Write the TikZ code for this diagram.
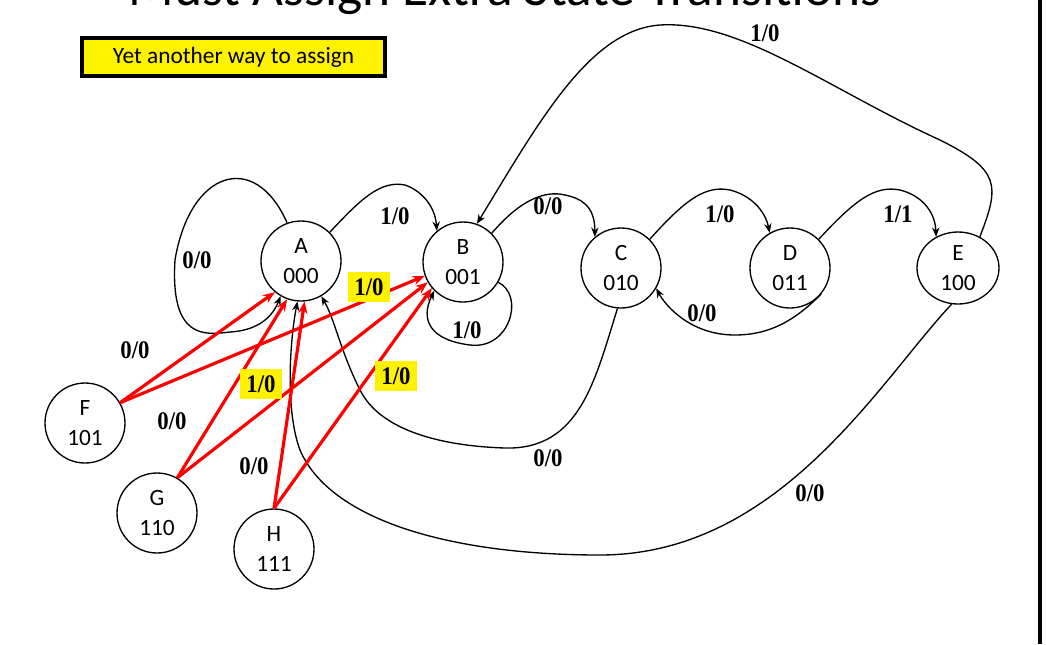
\documentclass[tikz,border=0pt]{standalone}
\usepackage{fontspec}
\setmainfont{Carlito}
\newfontfamily\lblfont{Liberation Serif}
\usetikzlibrary{arrows.meta,shapes.geometric}
\begin{document}
\begin{tikzpicture}[x=0.75pt,y=-0.75pt,
  st/.style={draw,circle,minimum size=80*0.75pt,inner sep=0pt,align=center,font=\fontsize{17.5}{22}\selectfont,line width=1pt},
  bk/.style={draw,line width=1pt,-{Stealth[length=7pt,width=5.5pt]}},
  rd/.style={draw=red,line width=2.4pt,-{Stealth[length=9pt,width=7pt]}},
  lb/.style={font=\lblfont\bfseries\fontsize{19}{20}\selectfont,inner sep=1pt,xscale=0.9},
  ylb/.style={lb,fill=yellow,inner sep=5pt}]
\useasboundingbox (0,0) rectangle (1046,644);
\fill[white] (0,0) rectangle (1046,644);
\node[anchor=base,font=\fontsize{40}{44}\selectfont] (title) at (505,5) {Must Assign Extra State Transitions};
\draw[line width=2.5pt] (1040,0) -- (1040,644);
\node[draw,line width=2.5pt,fill=yellow,minimum width=303*0.75pt,minimum height=38*0.75pt,font=\fontsize{17.5}{20}\selectfont] (note) at (233.5,57) {Yet another way to assign};

\node[st] (A) at (301,261) {A\\000};
\node[st] (B) at (463,262) {B\\001};
\node[st] (C) at (621,268) {C\\010};
\node[st] (D) at (790,268) {D\\011};
\node[st,ellipse,minimum width=82*0.75pt,minimum height=72*0.75pt] (E) at (958,268) {E\\100};
\node[st] (F) at (85,423) {F\\101};
\node[st] (G) at (157,513) {G\\110};
\node[st] (H) at (274,549) {H\\111};

% black transitions
\draw[bk] (A.110) .. controls (255,150) and (190,170) .. (175,260) .. controls (170,340) and (205,335) .. (230,332) .. controls (265,330) and (275,310) .. (A.240);
\node[lb] (lAA) at (197,260) {0/0};
\draw[bk] (A.45) .. controls (360,200) and (380,180) .. (405,185) .. controls (420,190) and (435,205) .. (B.130);
\node[lb] (lAB) at (395,216) {1/0};
\draw[bk] (B.-30) .. controls (525,295) and (510,350) .. (470,345) .. controls (430,340) and (420,320) .. (B.225);
\node[lb] (lBB) at (467,330) {1/0};
\draw[bk] (B.45) .. controls (520,200) and (545,190) .. (565,195) .. controls (580,198) and (595,205) .. (C.130);
\node[lb] (lBC) at (548,206) {0/0};
\draw[bk] (C.45) .. controls (685,200) and (705,185) .. (730,190) .. controls (750,195) and (765,210) .. (D.120);
\node[lb] (lCD) at (720,214) {1/0};
\draw[bk] (D.-40) .. controls (800,315) and (775,335) .. (735,335) .. controls (690,335) and (665,305) .. (C.-30);
\node[lb] (lDC) at (702,313) {0/0};
\draw[bk] (D.45) .. controls (855,200) and (875,185) .. (900,190) .. controls (920,195) and (935,210) .. (E.125);
\node[lb] (lDE) at (898,214) {1/1};
\draw[bk] (E.55) .. controls (1000,185) and (1000,170) .. (940,140) .. controls (830,90) and (740,20) .. (660,25) .. controls (590,30) and (540,120) .. (B.70);
\node[lb] (lEB) at (765,33) {1/0};
\draw[bk] (C.-95) .. controls (595,380) and (580,450) .. (505,448) .. controls (440,446) and (380,430) .. (360,390) .. controls (340,350) and (335,320) .. (A.-60);
\node[lb] (lCA) at (548,458) {0/0};
\draw[bk] (E.-100) .. controls (880,380) and (780,555) .. (600,555) .. controls (450,555) and (330,520) .. (300,450) .. controls (285,410) and (290,340) .. (A.-95);
\node[lb] (lEA) at (810,493) {0/0};

% red transitions
\draw[rd] (F.30) -- (A.230);
\draw[rd] (F.30) -- (B.200);
\draw[rd] (G.60) -- (A.250);
\draw[rd] (G.60) -- (B.210);
\draw[rd] (H.90) -- (A.-85);
\draw[rd] (H.90) -- (B.220);
\node[lb] (lFA) at (135,350) {0/0};
\node[lb] (lGA) at (172,421) {0/0};
\node[lb] (lHA) at (254,466) {0/0};
\node[ylb] (lFB) at (369,287) {1/0};
\node[ylb] (lGB) at (261,384) {1/0};
\node[ylb] (lHB) at (396,376) {1/0};
\end{tikzpicture}
\end{document}
